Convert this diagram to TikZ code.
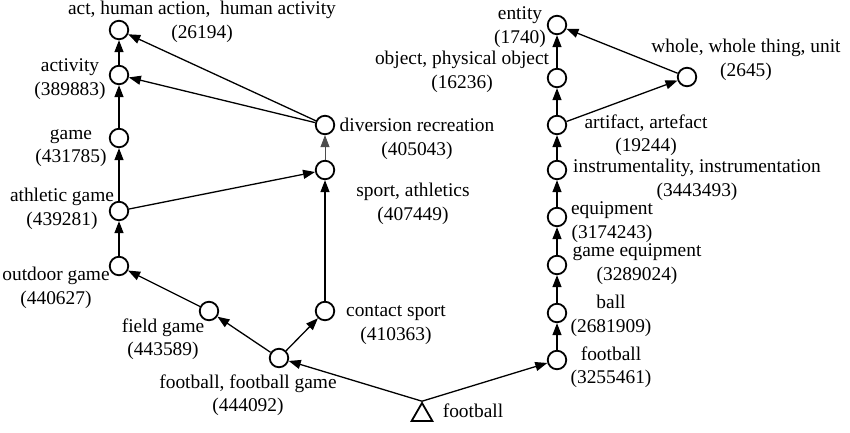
\documentclass[tikz,border=0pt]{standalone}
\usepackage{fontspec}
\setmainfont{Liberation Serif}
\usetikzlibrary{arrows.meta,shapes.geometric}
\tikzset{
  vtx/.style={circle,draw,line width=1.8bp,minimum size=18.5bp,inner sep=0pt},
  root/.style={regular polygon,regular polygon sides=3,draw,line width=1.8bp,minimum size=24bp,inner sep=0pt},
  lbl/.style={align=center,inner sep=0pt,font=\fontsize{19.4bp}{23.5bp}\selectfont},
  arr/.style={line width=1.3bp,-{Triangle[length=12bp,width=9bp]}},
  thin arr/.style={arr,line width=0.8bp,draw=black!70}
}
\begin{document}
\begin{tikzpicture}[x=1bp,y=-1bp]
\useasboundingbox (0,0) rectangle (850,432);
% left side vertices
\node[vtx] (act) at (119,30) {};
\node[vtx] (activity) at (119,75) {};
\node[vtx] (game) at (119,138) {};
\node[vtx] (athletic) at (119,211) {};
\node[vtx] (outdoor) at (119,266) {};
\node[vtx] (field) at (209,311) {};
\node[vtx] (ffg) at (279,358) {};
\node[vtx] (contact) at (325,311) {};
\node[vtx] (sport) at (325,170) {};
\node[vtx] (diversion) at (325,125) {};
% right side vertices
\node[vtx] (entity) at (557,25) {};
\node[vtx] (object) at (557,78) {};
\node[vtx] (artifact) at (557,125) {};
\node[vtx] (instr) at (557,170) {};
\node[vtx] (equip) at (557,217) {};
\node[vtx] (gequip) at (557,265) {};
\node[vtx] (ball) at (557,313) {};
\node[vtx] (fball) at (557,360) {};
\node[vtx] (whole) at (687,77) {};
\node[root] (root) at (422,415) {};
% labels
\node[lbl] (l-act) at (202,22) {act, human action,\ \ human activity\\(26194)};
\node[lbl] (l-activity) at (70,79) {activity\\(389883)};
\node[lbl] (l-game) at (71,148) {game\\(431785)};
\node[lbl] (l-athletic) at (62,209) {athletic game\\(439281)};
\node[lbl] (l-outdoor) at (56,288) {outdoor game\\(440627)};
\node[lbl] (l-field) at (163,339) {field game\\(443589)};
\node[lbl] (l-ffg) at (248,395) {football, football game\\(444092)};
\node[lbl] (l-contact) at (396,325) {contact sport\\(410363)};
\node[lbl] (l-sport) at (413,204) {sport, athletics\\(407449)};
\node[lbl] (l-diversion) at (417,139) {diversion recreation\\(405043)};
\node[lbl] (l-entity) at (520,27) {entity\\(1740)};
\node[lbl] (l-object) at (462,72) {object, physical object\\(16236)};
\node[lbl] (l-whole) at (746,60) {whole, whole thing, unit\\(2645)};
\node[lbl] (l-artifact) at (646,135) {artifact, artefact\\(19244)};
\node[lbl] (l-instr) at (697,180) {instrumentality, instrumentation\\(3443493)};
\node[lbl] (l-equip) at (612,222) {equipment\\(3174243)};
\node[lbl] (l-gequip) at (637,264) {game equipment\\(3289024)};
\node[lbl] (l-ball) at (611,316) {ball\\(2681909)};
\node[lbl] (l-fball) at (611,367) {football\\(3255461)};
\node[lbl] (l-root) at (473,411) {football};
% edges left
\draw[arr] (activity) -- (act);
\draw[arr] (game) -- (activity);
\draw[arr] (athletic) -- (game);
\draw[arr] (outdoor) -- (athletic);
\draw[arr] (field) -- (outdoor);
\draw[arr] (ffg) -- (field);
\draw[arr] (ffg) -- (contact);
\draw[arr] (contact) -- (sport);
\draw[thin arr] (sport) -- (diversion);
\draw[arr] (diversion) -- (activity);
\draw[arr] (diversion) -- (act);
\draw[arr] (athletic) -- (sport);
\draw[arr] (root.corner 1) -- (ffg);
\draw[arr] (root.corner 1) -- (fball);
% edges right
\draw[arr] (fball) -- (ball);
\draw[arr] (ball) -- (gequip);
\draw[arr] (gequip) -- (equip);
\draw[arr] (equip) -- (instr);
\draw[arr] (instr) -- (artifact);
\draw[arr] (artifact) -- (object);
\draw[arr] (object) -- (entity);
\draw[arr] (artifact) -- (whole);
\draw[arr] (whole) -- (entity);
\end{tikzpicture}
\end{document}
